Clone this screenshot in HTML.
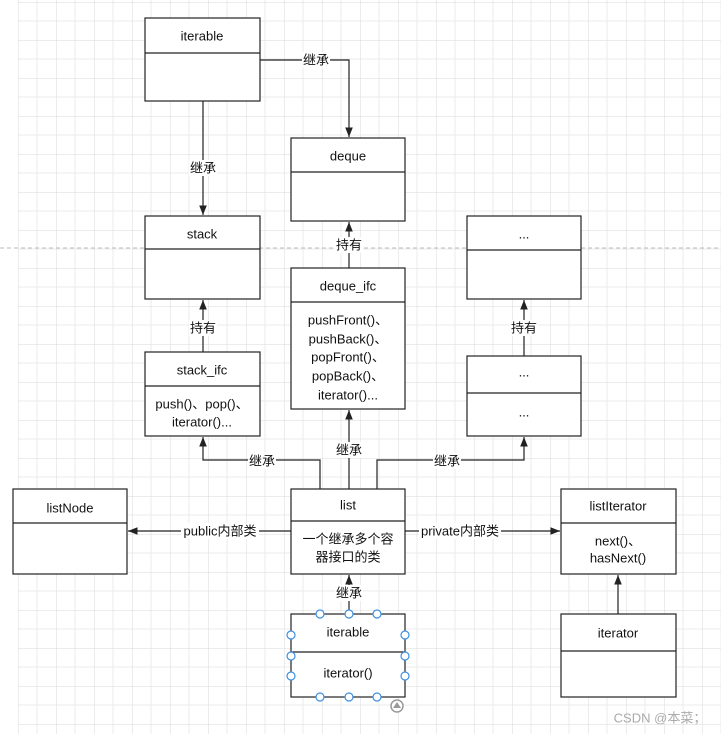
<!DOCTYPE html>
<html><head><meta charset="utf-8"><style>
html,body{margin:0;padding:0;background:#fff;}
svg{display:block;}
text{font-family:"Liberation Sans","Noto Sans CJK SC",sans-serif;font-size:13px;fill:#111;text-anchor:middle;dominant-baseline:central;}
.b{fill:#fff;stroke:#222;stroke-width:1.2;}
.l{stroke:#222;stroke-width:1.2;fill:none;}
.lb{fill:#fff;}
</style></head><body>
<svg width="721" height="734" viewBox="0 0 721 734">
<defs>
<pattern id="g" x="18" y="2" width="38" height="38" patternUnits="userSpaceOnUse">
<path d="M0 19H38M19 0V38" stroke="#ebebeb" stroke-width="1" fill="none"/>
<path d="M0 0H38M0 0V38" stroke="#dadada" stroke-width="1" fill="none"/>
</pattern>
<marker id="a" viewBox="0 0 10 10" refX="10" refY="5" markerWidth="8" markerHeight="8" orient="auto"><path d="M0 1L10 5L0 9z" fill="#222"/></marker>
</defs>
<rect x="18" y="0" width="703" height="734" fill="url(#g)"/>
<line x1="0" y1="248" x2="721" y2="248" stroke="#bbb" stroke-dasharray="4 3"/>

<!-- connectors -->
<path class="l" d="M260 60H349V137" marker-end="url(#a)"/>
<rect class="lb" x="302" y="52" width="28" height="16"/><text x="316" y="60">继承</text>
<path class="l" d="M203 101V215" marker-end="url(#a)"/>
<rect class="lb" x="189" y="160" width="28" height="16"/><text x="203" y="168">继承</text>
<path class="l" d="M349 268V222" marker-end="url(#a)"/>
<rect class="lb" x="335" y="237" width="28" height="16"/><text x="349" y="245">持有</text>
<path class="l" d="M203 352V300" marker-end="url(#a)"/>
<rect class="lb" x="189" y="320" width="28" height="16"/><text x="203" y="328">持有</text>
<path class="l" d="M524 356V300" marker-end="url(#a)"/>
<rect class="lb" x="510" y="320" width="28" height="16"/><text x="524" y="328">持有</text>
<path class="l" d="M320 489V460H203V437" marker-end="url(#a)"/>
<rect class="lb" x="248" y="453" width="28" height="16"/><text x="262" y="461">继承</text>
<path class="l" d="M349 489V410" marker-end="url(#a)"/>
<rect class="lb" x="335" y="442" width="28" height="16"/><text x="349" y="450">继承</text>
<path class="l" d="M377 489V460H524V437" marker-end="url(#a)"/>
<rect class="lb" x="433" y="453" width="28" height="16"/><text x="447" y="461">继承</text>
<path class="l" d="M291 531H128" marker-end="url(#a)"/>
<rect class="lb" x="181" y="523" width="78" height="16"/><text x="220" y="531">public内部类</text>
<path class="l" d="M405 531H560" marker-end="url(#a)"/>
<rect class="lb" x="419" y="523" width="82" height="16"/><text x="460" y="531">private内部类</text>
<path class="l" d="M349 614V575" marker-end="url(#a)"/>
<rect class="lb" x="335" y="585" width="28" height="16"/><text x="349" y="593">继承</text>
<path class="l" d="M618 614V575" marker-end="url(#a)"/>

<!-- boxes -->
<rect class="b" x="145" y="18" width="115" height="83"/><line class="l" x1="145" y1="53" x2="260" y2="53"/><text x="202" y="36">iterable</text>
<rect class="b" x="291" y="138" width="114" height="83"/><line class="l" x1="291" y1="172" x2="405" y2="172"/><text x="348" y="156">deque</text>
<rect class="b" x="145" y="216" width="115" height="83"/><line class="l" x1="145" y1="249" x2="260" y2="249"/><text x="202" y="234">stack</text>
<rect class="b" x="467" y="216" width="114" height="83"/><line class="l" x1="467" y1="250" x2="581" y2="250"/><text x="524" y="234">...</text>
<rect class="b" x="291" y="268" width="114" height="141"/><line class="l" x1="291" y1="302" x2="405" y2="302"/><text x="348" y="286">deque_ifc</text>
<text x="348" y="320">pushFront()、</text><text x="348" y="339">pushBack()、</text><text x="348" y="357">popFront()、</text><text x="348" y="376">popBack()、</text><text x="348" y="395">iterator()...</text>
<rect class="b" x="145" y="352" width="115" height="84"/><line class="l" x1="145" y1="386" x2="260" y2="386"/><text x="202" y="370">stack_ifc</text>
<text x="202" y="404">push()、pop()、</text><text x="202" y="422">iterator()...</text>
<rect class="b" x="467" y="356" width="114" height="80"/><line class="l" x1="467" y1="393" x2="581" y2="393"/><text x="524" y="372">...</text><text x="524" y="412">...</text>
<rect class="b" x="13" y="489" width="114" height="85"/><line class="l" x1="13" y1="523" x2="127" y2="523"/><text x="70" y="508">listNode</text>
<rect class="b" x="291" y="489" width="114" height="85"/><line class="l" x1="291" y1="521" x2="405" y2="521"/><text x="348" y="505">list</text>
<text x="348" y="539">一个继承多个容</text><text x="348" y="557">器接口的类</text>
<rect class="b" x="561" y="489" width="115" height="85"/><line class="l" x1="561" y1="523" x2="676" y2="523"/><text x="618" y="506">listIterator</text>
<text x="618" y="541">next()、</text><text x="618" y="558">hasNext()</text>
<rect class="b" x="291" y="614" width="114" height="83"/><line class="l" x1="291" y1="652" x2="405" y2="652"/><text x="348" y="632">iterable</text><text x="348" y="673">iterator()</text>
<rect class="b" x="561" y="614" width="115" height="83"/><line class="l" x1="561" y1="651" x2="676" y2="651"/><text x="618" y="633">iterator</text>

<!-- selection handles -->
<g fill="#fff" stroke="#3d8fe0" stroke-width="1.2">
<circle cx="320" cy="614" r="4"/><circle cx="349" cy="614" r="4"/><circle cx="377" cy="614" r="4"/>
<circle cx="320" cy="697" r="4"/><circle cx="349" cy="697" r="4"/><circle cx="377" cy="697" r="4"/>
<circle cx="291" cy="635" r="4"/><circle cx="291" cy="656" r="4"/><circle cx="291" cy="676" r="4"/>
<circle cx="405" cy="635" r="4"/><circle cx="405" cy="656" r="4"/><circle cx="405" cy="676" r="4"/>
</g>
<circle cx="397" cy="706" r="6" fill="#fff" stroke="#999" stroke-width="1.5"/><path d="M393 708L397 702L401 708z" fill="#999"/>
<text x="660" y="718" style="fill:#aaa;font-size:13px">CSDN @本菜；</text>
</svg>
</body></html>
